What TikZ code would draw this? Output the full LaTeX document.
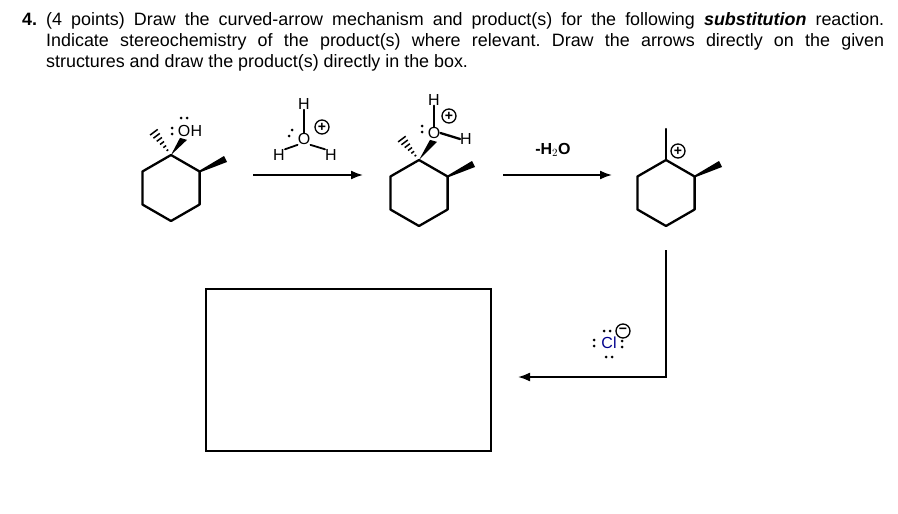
\documentclass[tikz,border=0pt]{standalone}
\usepackage{fontspec}
\setmainfont{Liberation Sans}
\usetikzlibrary{arrows.meta,calc}
\frenchspacing
\begin{document}
\begin{tikzpicture}[x=1pt,y=-1pt,
  bond/.style={line width=2.3pt,line cap=round,line join=round},
  atom/.style={inner sep=0pt,font=\fontsize{16}{16}\selectfont},
  chg/.style={circle,draw,line width=1.3pt,inner sep=0pt,minimum size=14pt,font=\fontsize{14}{14}\selectfont\bfseries},
  rxn/.style={line width=1.8pt,-{Latex[length=12pt,width=9pt]}},
  dot/.style={circle,fill,inner sep=0pt,minimum size=3pt},
  tline/.style={anchor=base west,inner sep=0pt,font=\fontsize{17.9}{20}\selectfont}]
\useasboundingbox (0,0) rectangle (898,514);
\node[tline] (t1) at (22,25) {\makebox[862pt][s]{\textbf{4.} (4 points) Draw the curved-arrow mechanism and product(s) for the following \textbf{\textit{substitution}} reaction.}};
\node[tline] (t2) at (46,46) {\makebox[838pt][s]{Indicate stereochemistry of the product(s) where relevant. Draw the arrows directly on the given}};
\node[tline] (t3) at (46,67) {structures and draw the product(s) directly in the box.};
\tikzset{ring/.pic={
  \draw[bond] (0,0) -- (28.6,16.5) -- (28.6,49.5) -- (0,66) -- (-28.6,49.5) -- (-28.6,16.5) -- cycle;
  \fill (28.6,15.5) -- (53,1) -- (56,7) -- (28.6,17.5) -- cycle;
}}
% molecule 1
\pic at (171,155) {ring};
\coordinate (c1) at (171,155);
\node[atom] (o1) at (184,131) {O};
\node[atom,anchor=west] (h1) at (o1.east) {H};
\fill (c1) -- ($(o1.south)+(-4,1)$) -- ($(o1.south)+(3,3)$) -- cycle;
\foreach \t in {0.2,0.35,0.5,0.65,0.8,0.95}
  \draw[line width=1.5pt] ($(c1)!\t!(153,131)+(-4*\t,3*\t)$) -- ($(c1)!\t!(153,131)+(4*\t,-3*\t)$);
\node[dot] at (181,118) {}; \node[dot] at (187,118) {};
\node[dot] at (172,128) {}; \node[dot] at (172,134) {};
% H3O+
\node[atom] (o2) at (304,139) {O};
\node[atom] (h2) at (304,104) {H};
\node[atom] (h3) at (279,155) {H};
\node[atom] (h4) at (331,155) {H};
\draw[bond,line width=1.8pt] (h2.south) -- (o2.north);
\draw[bond,line width=1.8pt] (h3.north east) -- (o2.south west);
\draw[bond,line width=1.8pt] (h4.north west) -- (o2.south east);
\node[chg] at (322,127) {+};
\node[dot] at (292,130) {}; \node[dot] at (289,136) {};
\coordinate (a1s) at (253,175); \coordinate (a1e) at (363,175);
\draw[rxn] (a1s) -- (a1e);
% molecule 2
\pic at (419,160) {ring};
\coordinate (c2) at (419,160);
\node[atom] (o3) at (434,133) {O};
\node[atom] (h5) at (434,100) {H};
\node[atom] (h6) at (466,139) {H};
\draw[bond] (h5.south) -- (o3.north);
\draw[bond] (o3.east) -- (h6.west);
\node[chg] at (449,116) {+};
\fill (c2) -- ($(o3.south)+(-4,1)$) -- ($(o3.south)+(3,3)$) -- cycle;
\foreach \t in {0.2,0.35,0.5,0.65,0.8,0.95}
  \draw[line width=1.5pt] ($(c2)!\t!(401,138)+(-4*\t,3*\t)$) -- ($(c2)!\t!(401,138)+(4*\t,-3*\t)$);
\node[dot] at (422,126) {}; \node[dot] at (422,132) {};
\node[atom] (w) at (553,150) {\textbf{-H$_2$O}};
\coordinate (a2s) at (503,175); \coordinate (a2e) at (612,175);
\draw[rxn] (a2s) -- (a2e);
% molecule 3
\pic at (666,160) {ring};
\coordinate (c3) at (666,160);
\draw[bond] (c3) -- (666,129);
\node[chg] at (678,151) {+};
% return arrow
\coordinate (p1) at (666,250); \coordinate (p2) at (666,377); \coordinate (p3) at (518,377);
\draw[rxn] (p1) -- (p2) -- (p3);
\node[draw,line width=2pt,minimum width=285pt,minimum height=162pt,anchor=north west] (box) at (205,288) {};
% Cl-
\node[atom,text=blue!55!black] (cl) at (609,343) {Cl};
\node[chg] at (623,331) {\textminus};
\node[dot] at (594,340) {}; \node[dot] at (594,346) {};
\node[dot] at (622,341) {}; \node[dot] at (622,347) {};
\node[dot] at (604,331) {}; \node[dot] at (610,331) {};
\node[dot] at (606,357) {}; \node[dot] at (612,357) {};
\end{tikzpicture}
\end{document}
